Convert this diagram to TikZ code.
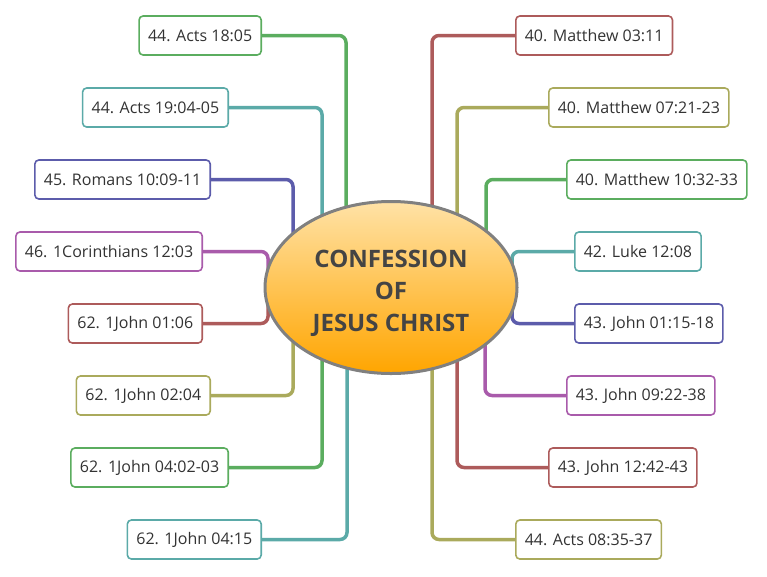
\documentclass[tikz,border=0pt]{standalone}
\usepackage{fontspec}
\setmainfont{Open Sans}
\usepackage{tikz, xcolor}
\usetikzlibrary{shapes.geometric}

\definecolor{mred}{HTML}{AD5B5B}
\definecolor{mgreen}{HTML}{5BAD5F}
\definecolor{mteal}{HTML}{5BAAA8}
\definecolor{mblue}{HTML}{5C5CAB}
\definecolor{mpurple}{HTML}{A95BAB}
\definecolor{molive}{HTML}{AAAA5C}
\definecolor{labelgray}{HTML}{333333}
\definecolor{titlegray}{HTML}{444444}
\definecolor{rootlight}{HTML}{FFE2A6}
\definecolor{rootdark}{HTML}{FFA500}

\begin{document}
\begin{tikzpicture}
	[
		x=1pt, y=-1pt,
		leaf/.style={draw=#1, fill=white, rounded corners=4pt, line width=1.6pt,
			minimum height=39pt, inner xsep=9pt, text=labelgray,
			font=\fontsize{16}{19}\selectfont},
		link/.style={draw=#1, line width=3.5pt, rounded corners=7pt},
		root/.style={ellipse, draw=gray, line width=3pt,
			minimum width=252pt, minimum height=172pt,
			top color=rootlight, bottom color=rootdark},
		title/.style={align=center, text=titlegray,
			font=\bfseries\fontsize{24}{32}\selectfont}
	]
	
	% Fix the page size.
	\useasboundingbox (0,0) rectangle (767,576);
	
	% Centre of the map.
	\coordinate (c) at (391,287.5);
	
	% Draw left boxes.
	\node[leaf=mgreen, anchor=east]  (l1) at (262,35.5)  {44. Acts 18:05};
	\node[leaf=mteal, anchor=east]   (l2) at (229,107.5) {44. Acts 19:04-05};
	\node[leaf=mblue, anchor=east]   (l3) at (211,179.5) {45. Romans 10:09-11};
	\node[leaf=mpurple, anchor=east] (l4) at (203,251.5) {46. 1Corinthians 12:03};
	\node[leaf=mred, anchor=east]    (l5) at (203,323.5) {62. 1John 01:06};
	\node[leaf=molive, anchor=east]  (l6) at (211,395.5) {62. 1John 02:04};
	\node[leaf=mgreen, anchor=east]  (l7) at (229,467.5) {62. 1John 04:02-03};
	\node[leaf=mteal, anchor=east]   (l8) at (262,539.5) {62. 1John 04:15};
	
	% Draw right boxes.
	\node[leaf=mred, anchor=west]    (r1) at (515,35.5)  {40. Matthew 03:11};
	\node[leaf=molive, anchor=west]  (r2) at (548,107.5) {40. Matthew 07:21-23};
	\node[leaf=mgreen, anchor=west]  (r3) at (566,179.5) {40. Matthew 10:32-33};
	\node[leaf=mteal, anchor=west]   (r4) at (574,251.5) {42. Luke 12:08};
	\node[leaf=mblue, anchor=west]   (r5) at (574,323.5) {43. John 01:15-18};
	\node[leaf=mpurple, anchor=west] (r6) at (566,395.5) {43. John 09:22-38};
	\node[leaf=mred, anchor=west]    (r7) at (548,467.5) {43. John 12:42-43};
	\node[leaf=molive, anchor=west]  (r8) at (515,539.5) {44. Acts 08:35-37};
	
	% Draw connectors, left side.
	\draw[link=mgreen]  (l1.east) -| ([xshift=-45pt]c);
	\draw[link=mteal]   (l2.east) -| ([xshift=-69pt]c);
	\draw[link=mblue]   (l3.east) -| ([xshift=-98pt]c);
	\draw[link=mpurple] (l4.east) -| ([xshift=-123pt]c);
	\draw[link=mred]    (l5.east) -| ([xshift=-123pt]c);
	\draw[link=molive]  (l6.east) -| ([xshift=-98pt]c);
	\draw[link=mgreen]  (l7.east) -| ([xshift=-69pt]c);
	\draw[link=mteal]   (l8.east) -| ([xshift=-44pt]c);
	
	% Draw connectors, right side.
	\draw[link=mred]    (r1.west) -| ([xshift=41pt]c);
	\draw[link=molive]  (r2.west) -| ([xshift=66pt]c);
	\draw[link=mgreen]  (r3.west) -| ([xshift=95pt]c);
	\draw[link=mteal]   (r4.west) -| ([xshift=121pt]c);
	\draw[link=mblue]   (r5.west) -| ([xshift=121pt]c);
	\draw[link=mpurple] (r6.west) -| ([xshift=94pt]c);
	\draw[link=mred]    (r7.west) -| ([xshift=66pt]c);
	\draw[link=molive]  (r8.west) -| ([xshift=41pt]c);
	
	% Draw the central topic.
	\node[root] (root) at (c) {};
	\node[title] (topic) at ([yshift=-5.5pt]root.center) {CONFESSION\\OF\\JESUS CHRIST};
\end{tikzpicture}
\end{document}
